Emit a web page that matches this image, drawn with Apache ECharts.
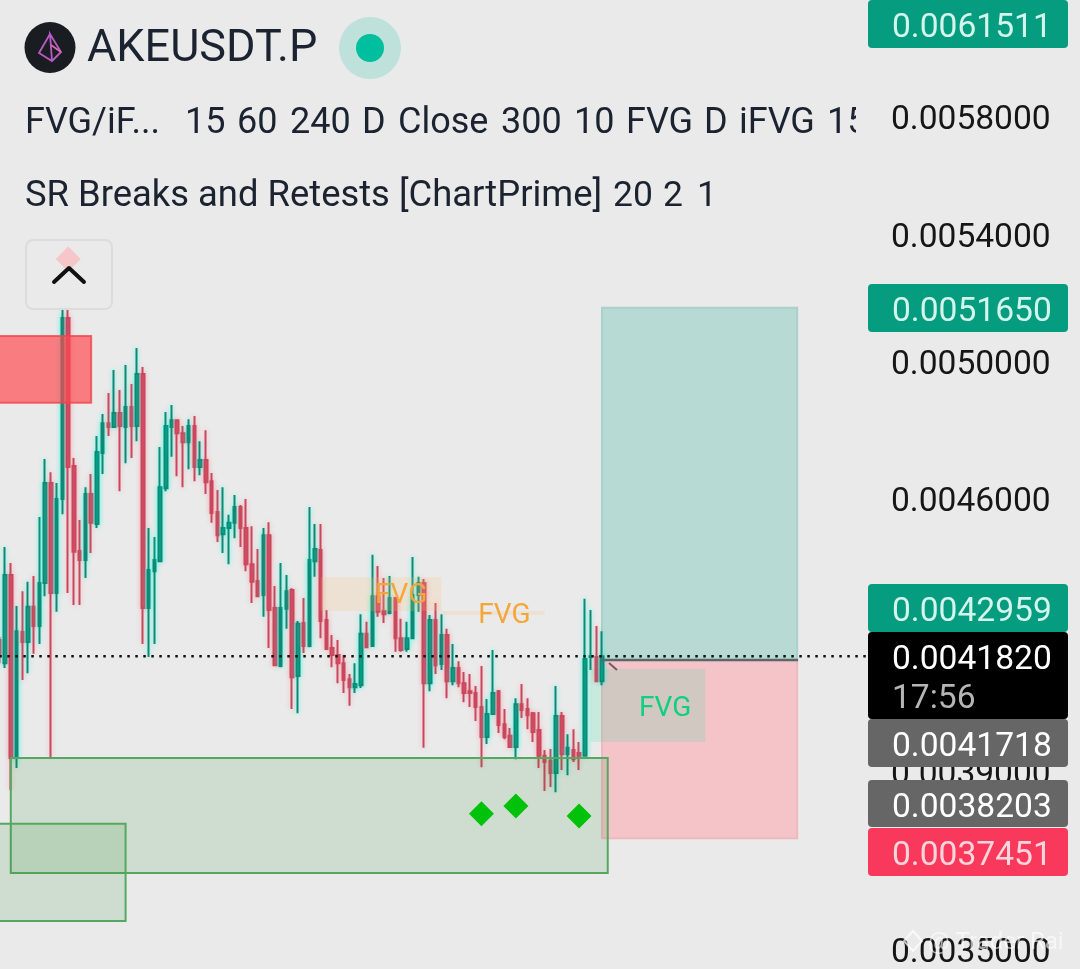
<!DOCTYPE html>
<html><head><meta charset="utf-8">
<style>html,body{margin:0;padding:0;background:#eaeaea}#c{width:1080px;height:969px}</style>
<script src="https://cdn.jsdelivr.net/npm/echarts@6/dist/echarts.min.js"></script>
</head><body><div id="c"></div>
<script>
const opens=[0.004223,0.004164,0.004393,0.003932,0.004244,0.004218,0.004309,0.004259,0.004372,0.004645,0.004345,0.004600,0.005133,0.004693,0.004457,0.004433,0.004614,0.004531,0.004730,0.004816,0.004805,0.004846,0.004805,0.004864,0.004808,0.004962,0.004306,0.004403,0.004430,0.004630,0.004805,0.004825,0.004787,0.004761,0.004808,0.004690,0.004710,0.004650,0.004564,0.004503,0.004520,0.004534,0.004578,0.004520,0.004422,0.004377,0.004340,0.004500,0.004306,0.004157,0.004304,0.004353,0.004132,0.004267,0.004208,0.004430,0.004460,0.004275,0.004203,0.004185,0.004164,0.004124,0.004104,0.004109,0.004239,0.004208,0.004337,0.004298,0.004293,0.004332,0.004228,0.004200,0.004228,0.004340,0.004372,0.004114,0.004275,0.004162,0.004236,0.004119,0.004152,0.004114,0.004094,0.004090,0.004055,0.003982,0.004038,0.004094,0.004013,0.003985,0.003958,0.004062,0.004050,0.004040,0.003999,0.003937,0.003925,0.003896,0.004033,0.003941,0.003951,0.003944,0.003937,0.004180,0.004180,0.004119];
const closes=[0.004185,0.004393,0.003932,0.004246,0.004218,0.004309,0.004259,0.004372,0.004645,0.004345,0.004600,0.005133,0.004690,0.004455,0.004433,0.004614,0.004534,0.004733,0.004816,0.004805,0.004846,0.004808,0.004864,0.004808,0.004962,0.004306,0.004406,0.004433,0.004633,0.004808,0.004825,0.004787,0.004761,0.004808,0.004690,0.004710,0.004647,0.004561,0.004500,0.004520,0.004534,0.004578,0.004520,0.004422,0.004375,0.004337,0.004500,0.004301,0.004159,0.004306,0.004350,0.004129,0.004265,0.004208,0.004433,0.004463,0.004272,0.004200,0.004185,0.004164,0.004122,0.004104,0.004112,0.004239,0.004205,0.004337,0.004296,0.004290,0.004332,0.004228,0.004198,0.004228,0.004340,0.004372,0.004114,0.004275,0.004159,0.004236,0.004119,0.004152,0.004114,0.004090,0.004090,0.004055,0.003982,0.004038,0.004090,0.004011,0.003982,0.003958,0.004062,0.004048,0.004035,0.003994,0.003937,0.003922,0.003896,0.004033,0.003941,0.003956,0.003929,0.003937,0.004175,0.004182,0.004119,0.004182];
const lows=[0.004164,0.004152,0.003856,0.003908,0.004122,0.004139,0.004188,0.004213,0.004337,0.003932,0.004296,0.004558,0.004345,0.004314,0.004314,0.004385,0.004452,0.004520,0.004670,0.004779,0.004805,0.004622,0.004701,0.004716,0.004764,0.004213,0.004180,0.004213,0.004430,0.004622,0.004719,0.004664,0.004633,0.004684,0.004650,0.004667,0.004614,0.004534,0.004482,0.004452,0.004422,0.004492,0.004468,0.004403,0.004319,0.004335,0.004283,0.004203,0.004159,0.004154,0.004252,0.004050,0.004040,0.004190,0.004205,0.004388,0.004228,0.004198,0.004154,0.004114,0.004090,0.004058,0.004090,0.004102,0.004205,0.004208,0.004283,0.004267,0.004290,0.004193,0.004193,0.004193,0.004228,0.004296,0.003956,0.004094,0.004137,0.004147,0.004077,0.004109,0.004104,0.004067,0.004055,0.004021,0.003910,0.003965,0.004038,0.003992,0.003977,0.003956,0.003929,0.004028,0.004001,0.003970,0.003908,0.003854,0.003863,0.003851,0.003903,0.003891,0.003922,0.003903,0.003937,0.004147,0.004117,0.004109];
const highs=[0.004231,0.004468,0.004425,0.004311,0.004350,0.004375,0.004390,0.004550,0.004713,0.004675,0.004645,0.005158,0.005158,0.004716,0.004542,0.004633,0.004670,0.004779,0.004843,0.004905,0.004974,0.004914,0.004989,0.004932,0.005041,0.004983,0.004520,0.004495,0.004747,0.004849,0.004870,0.004828,0.004808,0.004828,0.004837,0.004764,0.004796,0.004673,0.004625,0.004633,0.004556,0.004611,0.004583,0.004600,0.004525,0.004463,0.004520,0.004536,0.004364,0.004425,0.004393,0.004358,0.004272,0.004332,0.004578,0.004531,0.004531,0.004301,0.004236,0.004223,0.004185,0.004137,0.004164,0.004290,0.004270,0.004447,0.004417,0.004385,0.004390,0.004332,0.004278,0.004270,0.004441,0.004388,0.004382,0.004288,0.004319,0.004290,0.004252,0.004213,0.004169,0.004142,0.004137,0.004107,0.004157,0.004075,0.004198,0.004097,0.004050,0.004004,0.004077,0.004112,0.004077,0.004043,0.004043,0.003951,0.003953,0.004107,0.004043,0.003989,0.004001,0.003970,0.004330,0.004301,0.004259,0.004246];
const axisTicks=[0.0035,0.0039,0.0046,0.005,0.0054,0.0058];
const currentPrice=0.004182;
const tagTexts=['0.0061511','0.0051650','0.0042959','0.0041820','17:56','0.0041718','0.0038203','0.0037451'];
const indicatorTokens=[['15',185],['60',237],['240',290],['D',362],['Close',398],['300',501],['10',574],['FVG',626],['D',704],['iFVG',739],['15',827]];
const srTokens=[['SR Breaks and Retests [ChartPrime]',25],['20',613],['2',663],['1',697]];
// zones: [startIndex, endIndex, top price, bottom price]
const profitZone=[104.8,139.1,0.005165,0.0041718];
const lossZone=[104.8,139.1,0.0041718,0.0037451];
const supplyZone=[-3,16,0.005078,0.004876];
const demandZones=[[2.04,106,0.003932,0.003667],[-3,22.07,0.003778,0.003562]];
const fvgZones=[[55.9,77.1,0.004387,0.004298],[77.1,95.2,0.004298,0.004288]];
const bullFvgZone=[102.9,123.1,0.00415,0.00397];
const fvgLabels=[[70.2,0.004345,'#f4a63a'],[87.9,0.004293,'#f4a63a'],[116,0.004057,'#10cf7f']];
const buySignals=[[84,0.003801],[90,0.003819],[101,0.003796]];
const sellSignals=[[12,0.00532]];

const SLOTS=152, STEP=5.74;
const UI='Roboto, sans-serif';
const BG='#eaeaea';
const cats=Array.from({length:SLOTS},(_,i)=>String(i));
const GREEN='#0b8a75', RED='#c9475c';
const candles=opens.map((o,i)=>({value:[o,closes[i],lows[i],highs[i]],itemStyle:{shadowBlur:5,shadowColor:closes[i]>o?'rgba(0,255,225,.55)':'rgba(255,120,140,.45)'}}));

function zoneSeries(name,rows,fill,stroke,z){
  return {type:'custom',name,coordinateSystem:'cartesian2d',z,silent:true,clip:false,
    encode:{x:0,y:2},data:rows,
    renderItem(p,api){
      const a=api.coord([api.value(0),api.value(2)]),b=api.coord([api.value(1),api.value(3)]);
      return {type:'rect',shape:{x:a[0],y:a[1],width:b[0]-a[0],height:b[1]-a[1]},style:{fill,stroke,lineWidth:stroke==='none'?0:2}};
    }};
}
const chart=echarts.init(document.getElementById('c'),null,{renderer:'canvas'});
const tag=(y,h,fill)=>({type:'rect',shape:{x:868,y,width:200,height:h,r:4},style:{fill}});
const txt=(x,y,text,size,fill,extra)=>({type:'text',x,y:y+4,style:Object.assign({text,fill,font:size+'px '+UI,textVerticalAlign:'middle'},extra||{})});
const INK='#1b2230';
const overlay=[
  {type:'circle',shape:{cx:50,cy:47.5,r:25.5},style:{fill:'#191c20'}},
  {type:'polyline',shape:{points:[[50,34],[39,53],[52,61],[61,52],[50,34],[52,61]]},style:{stroke:'#b85cc4',fill:'none',lineWidth:1.8}},
  {type:'polyline',shape:{points:[[51,45],[61,52]]},style:{stroke:'#d86bb0',fill:'none',lineWidth:1.8}},
  txt(87,46,'AKEUSDT.P',45,INK),
  {type:'circle',shape:{cx:370,cy:48,r:31},style:{fill:'#bfe1dc'}},
  {type:'circle',shape:{cx:370,cy:48,r:14},style:{fill:'#00bf9f'}},
  txt(25,120,'FVG/iF...',36,INK),
  ...indicatorTokens.map(t=>txt(t[1],120,t[0],36,INK)),
  {type:'rect',shape:{x:856,y:95,width:12,height:50},style:{fill:BG}},
  ...srTokens.map((t,i)=>txt(t[1],193,t[0],i===0?36.4:35.5,INK)),
  {type:'rect',shape:{x:26,y:240,width:86,height:69,r:7},style:{fill:'rgba(233,233,233,0)',stroke:'#dcdcdc',lineWidth:2}},
  {type:'polyline',shape:{points:[[54,282],[69,268],[84,282]]},style:{stroke:'#111',fill:'none',lineWidth:4,lineCap:'round',lineJoin:'round'}},
  {type:'line',shape:{x1:601,y1:660,x2:798,y2:660},style:{stroke:'#5a6867',lineWidth:2.5}},
  {type:'line',shape:{x1:609,y1:663,x2:617,y2:670},style:{stroke:'#6b5f60',lineWidth:2}},
  tag(0,48,'#059c80'),txt(892,25,tagTexts[0],33.6,'#d3f5ec'),
  tag(284,48,'#059c80'),txt(892,309,tagTexts[1],33.6,'#d3f5ec'),
  tag(584,48,'#059c80'),txt(892,609,tagTexts[2],33.6,'#d3f5ec'),
  tag(632,87,'#000'),txt(892,657,tagTexts[3],33.6,'#fff'),txt(892,696,tagTexts[4],33.6,'#b5b5b5'),
  tag(719,48,'#666'),txt(892,744,tagTexts[5],33.6,'#fff'),
  tag(780,47,'#666'),txt(892,805,tagTexts[6],33.6,'#fff'),
  tag(828,48,'#f8395b'),txt(892,853,tagTexts[7],33.6,'#fbd5dc'),
  {type:'polygon',shape:{points:[[913,931],[922,941],[913,951],[904,941]]},style:{fill:'none',stroke:'rgba(255,255,255,.75)',lineWidth:2}},
  txt(928,939,'@ Trader Rai',24,'rgba(255,255,255,.62)')
].map(el=>Object.assign(el,{z:100,zlevel:5,silent:true}));
chart.setOption({
  animation:false,
  backgroundColor:BG,
  grid:{left:-3.57,top:0,width:SLOTS*STEP,height:969,containLabel:false,outerBoundsMode:'none'},
  xAxis:{type:'category',data:cats,axisLine:{show:false},axisTick:{show:false},axisLabel:{show:false},splitLine:{show:false}},
  yAxis:{type:'log',logBase:10,position:'right',min:0.0034598,max:0.0062245,
    axisLine:{show:false},axisTick:{show:false},splitLine:{show:false},minorTick:{show:false},
    axisLabel:{customValues:axisTicks,margin:22,fontFamily:'Roboto',fontSize:33.6,color:'#161616',align:'left',verticalAlign:'top',lineHeight:8,showMinLabel:true,showMaxLabel:true,formatter:v=>Number(v).toFixed(7)}},
  series:[
    zoneSeries('profit',[profitZone],'#b7dad4','#a9d0ca',2),
    zoneSeries('loss',[lossZone],'#f5c4c9','#f0b8be',2),
    zoneSeries('bullFvg',[bullFvgZone],'rgba(0,226,156,.14)','none',3),
    {type:'candlestick',name:'AKEUSDT.P',z:4,data:candles,barWidth:3,
      itemStyle:{color:GREEN,color0:RED,borderColor:GREEN,borderColor0:RED,borderWidth:2}},
    {type:'line',name:'last price',z:5,data:cats.map(()=>currentPrice),showSymbol:false,symbol:'none',silent:true,
      lineStyle:{color:'#111',type:[2.5,5.5],width:2.5}},
    zoneSeries('supply',[supplyZone],'rgba(255,72,78,.68)','rgba(240,70,75,.8)',5),
    zoneSeries('demand',demandZones,'rgba(30,140,40,.13)','#55a85f',5),
    zoneSeries('fvg',fvgZones,'rgba(250,190,120,.2)','none',5),
    {type:'custom',name:'fvgText',coordinateSystem:'cartesian2d',z:6,silent:true,clip:false,encode:{x:0,y:1},data:fvgLabels,
      renderItem(p,api){const c=api.coord([api.value(0),api.value(1)]);
        return {type:'text',x:c[0],y:c[1]+3,style:{text:'FVG',fill:fvgLabels[p.dataIndex][2],font:'28px '+UI,textAlign:'center',textVerticalAlign:'middle'}};}},
    {type:'scatter',name:'buy',z:7,symbol:'diamond',symbolSize:25,silent:true,data:buySignals,itemStyle:{color:'#00c20a',opacity:1}},
    {type:'scatter',name:'sell',z:7,symbol:'diamond',symbolSize:25,silent:true,data:sellSignals,itemStyle:{color:'#f6c6c8',opacity:1}}
  ],
  graphic:{elements:overlay}
});
</script></body></html>
